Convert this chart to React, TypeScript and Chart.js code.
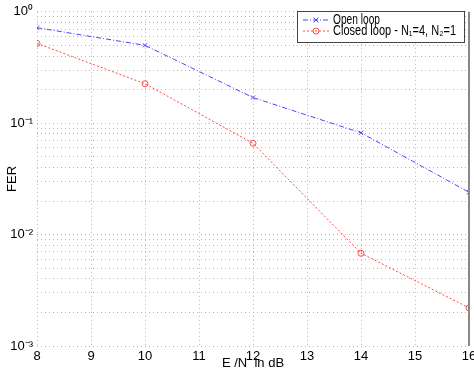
import React, { useEffect, useRef } from "react";
import { Chart, registerables } from "chart.js";

Chart.register(...registerables);

const snrDb = [8, 10, 12, 14, 16];
const openLoop = [0.72, 0.5, 0.17, 0.082, 0.024];
const closedLoop = [0.52, 0.226, 0.066, 0.0068, 0.0022];
const xTicks = [8, 9, 10, 11, 12, 13, 14, 15, 16];
const decadeLabels: Record<string, string> = { "1": "10⁰", "0.1": "10⁻¹", "0.01": "10⁻²", "0.001": "10⁻³" };
const legendLabels = ["Open loop", "Closed loop - N₁=4, N₂=1"];

const FONT = "'Liberation Sans', Arial, sans-serif";
const BLUE = "#4848ff";
const RED = "#ff4848";

const overlayPlugin = {
  id: "overlay",
  afterDraw(chart: any) {
    const { ctx, chartArea } = chart;
    ctx.save();
    ctx.strokeStyle = "#888";
    ctx.lineWidth = 2;
    ctx.beginPath();
    ctx.moveTo(chartArea.right, chartArea.top);
    ctx.lineTo(chartArea.right, chartArea.bottom);
    ctx.stroke();
    const bx = 297, by = 11, bw = 167, bh = 31;
    ctx.fillStyle = "#fff";
    ctx.fillRect(bx, by, bw, bh);
    ctx.strokeStyle = "#444";
    ctx.lineWidth = 1;
    ctx.strokeRect(bx + 0.5, by + 0.5, bw, bh);
    const rows = [
      { label: legendLabels[0], color: BLUE, dash: [5, 2, 1, 2], marker: "x", y: by + 9, w: 47 },
      { label: legendLabels[1], color: RED, dash: [2, 2], marker: "o", y: by + 20, w: 123 },
    ];
    rows.forEach((r) => {
      ctx.strokeStyle = r.color;
      ctx.lineWidth = 1;
      ctx.setLineDash(r.dash);
      ctx.beginPath();
      ctx.moveTo(bx + 6, r.y);
      ctx.lineTo(bx + 32, r.y);
      ctx.stroke();
      ctx.setLineDash([]);
      const cx = bx + 19;
      ctx.beginPath();
      if (r.marker === "x") {
        ctx.moveTo(cx - 2.5, r.y - 2.5); ctx.lineTo(cx + 2.5, r.y + 2.5);
        ctx.moveTo(cx + 2.5, r.y - 2.5); ctx.lineTo(cx - 2.5, r.y + 2.5);
      } else {
        ctx.arc(cx, r.y, 3, 0, Math.PI * 2);
      }
      ctx.stroke();
      ctx.fillStyle = "#000";
      ctx.font = `14px ${FONT}`;
      ctx.textBaseline = "middle";
      ctx.textAlign = "left";
      ctx.fillText(r.label, bx + 36, r.y, r.w);
    });
    ctx.restore();
  },
};

export default function App() {
  const ref = useRef<HTMLCanvasElement>(null);
  useEffect(() => {
    document.body.style.margin = "0";
    const chart = new Chart(ref.current!, {
      type: "line",
      data: {
        datasets: [
          {
            label: legendLabels[0],
            data: snrDb.map((x, i) => ({ x, y: openLoop[i] })),
            borderColor: BLUE,
            borderWidth: 1,
            borderDash: [5, 2, 1, 2],
            pointStyle: "crossRot",
            pointRadius: 3,
            pointBorderColor: BLUE,
            pointBorderWidth: 1,
            fill: false,
          },
          {
            label: legendLabels[1],
            data: snrDb.map((x, i) => ({ x, y: closedLoop[i] })),
            borderColor: RED,
            borderWidth: 1,
            borderDash: [2, 2],
            pointStyle: "circle",
            pointRadius: 3,
            pointBorderColor: RED,
            pointBackgroundColor: "rgba(0,0,0,0)",
            pointBorderWidth: 1,
            fill: false,
          },
        ],
      },
      options: {
        animation: false,
        responsive: false,
        maintainAspectRatio: false,
        layout: { padding: { top: 7, right: 4, left: 0, bottom: 0 } },
        plugins: { legend: { display: false }, tooltip: { enabled: false } },
        scales: {
          x: {
            type: "linear",
            min: 8,
            max: 16,
            afterBuildTicks: (s: any) => { s.ticks = xTicks.map((v) => ({ value: v })); },
            afterFit: (s: any) => { s.height = 25; s.paddingRight = 0; s.paddingLeft = 0; },
            grid: { color: "#b4b4b4", lineWidth: 1, drawTicks: false },
            border: { display: false, dash: [1, 3] },
            ticks: { color: "#000", font: { family: FONT, size: 13 }, padding: 3, maxRotation: 0 },
            title: { display: true, text: "E /N  in dB", color: "#000", font: { family: FONT, size: 13 }, padding: { top: -4, bottom: 0 } },
          },
          y: {
            type: "logarithmic",
            min: 0.001,
            max: 1,
            afterBuildTicks: (s: any) => {
              const t: any[] = [];
              for (let e = -3; e <= 0; e++) {
                for (let m = 1; m <= 9; m++) {
                  const v = m * Math.pow(10, e);
                  if (v <= 1.0000001) t.push({ value: v, major: m === 1 });
                }
              }
              s.ticks = t;
            },
            afterFit: (s: any) => { s.width = 37; },
            grid: { color: "#b4b4b4", lineWidth: 1, drawTicks: false },
            border: { display: false, dash: [1, 3] },
            ticks: {
              color: "#000",
              font: { family: FONT, size: 13 },
              padding: 4,
              autoSkip: false,
              callback: (v: any) => {
                const key = String(Number(Number(v).toPrecision(6)));
                return decadeLabels[key] ?? "";
              },
            },
            title: { display: true, text: "FER", color: "#000", font: { family: FONT, size: 13 }, padding: { top: 5, bottom: 0 } },
          },
        },
      },
      plugins: [overlayPlugin],
    } as any);
    return () => chart.destroy();
  }, []);
  return (
    <div style={{ position: "absolute", left: 0, top: 0, width: 474, height: 371, background: "#fff" }}>
      <canvas ref={ref} width={474} height={371} style={{ width: 474, height: 371 }} />
    </div>
  );
}
